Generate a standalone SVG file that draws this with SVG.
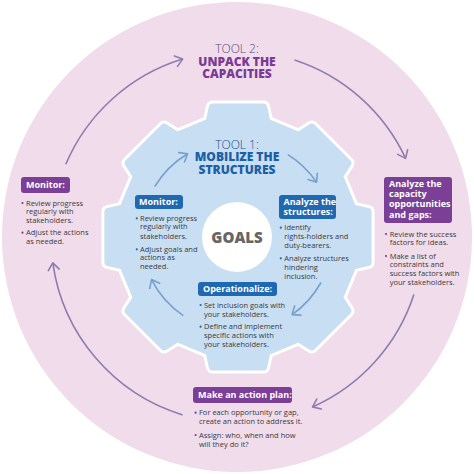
<svg xmlns="http://www.w3.org/2000/svg" width="474" height="474" viewBox="0 0 474 474">
<defs>
<style>
.body{font-family:"Open Sans","Noto Sans","Liberation Sans",sans-serif;font-size:7.5px;fill:#3a3a3a}
.hdr{font-family:"Open Sans","Noto Sans","Liberation Sans",sans-serif;font-size:9px;font-weight:700;fill:#ffffff}
.pbox{fill:#7b3f98}
.bbox{fill:#1f68b2}
.pdot{fill:#7b3f98}
.bdot{fill:#1f68b2}
.oarc{fill:none;stroke:#8f7cb0;stroke-width:1.6;marker-end:url(#pa)}
.iarc{fill:none;stroke:#76a0cf;stroke-width:1.6;marker-end:url(#ba)}
.tl{font-family:"Open Sans","Noto Sans","Liberation Sans",sans-serif;font-size:12px;font-weight:300;text-anchor:middle}
.tb{font-family:"Open Sans","Noto Sans","Liberation Sans",sans-serif;font-size:12px;font-weight:800;text-anchor:middle}
</style>
<marker id="pa" viewBox="-9 -7 11 14" markerWidth="11" markerHeight="14" refX="0" refY="0" orient="auto" markerUnits="userSpaceOnUse">
<path d="M-7,-5.5 L0,0 L-7,5.5" fill="none" stroke="#8f7cb0" stroke-width="1.6" stroke-linecap="round" stroke-linejoin="round"/>
</marker>
<marker id="ba" viewBox="-9 -7 11 14" markerWidth="11" markerHeight="14" refX="0" refY="0" orient="auto" markerUnits="userSpaceOnUse">
<path d="M-7,-5.5 L0,0 L-7,5.5" fill="none" stroke="#76a0cf" stroke-width="1.6" stroke-linecap="round" stroke-linejoin="round"/>
</marker>
</defs>
<rect width="474" height="474" fill="#ffffff"/>
<circle cx="237" cy="237" r="235" fill="#f0dcea"/>
<g id="gear">
<path id="gear-outline" d="M209.5,122.5 L212.8,107.4 L263.2,107.4 L266.5,122.5 L298.8,135.9 L311.8,127.6 L347.4,163.2 L339.1,176.2 L352.5,208.5 L367.6,211.8 L367.6,262.2 L352.5,265.5 L339.1,297.8 L347.4,310.8 L311.8,346.4 L298.8,338.1 L266.5,351.5 L263.2,366.6 L212.8,366.6 L209.5,351.5 L177.2,338.1 L164.2,346.4 L128.6,310.8 L136.9,297.8 L123.5,265.5 L108.4,262.2 L108.4,211.8 L123.5,208.5 L136.9,176.2 L128.6,163.2 L164.2,127.6 L177.2,135.9 Z" fill="#ffffff" stroke="#ffffff" stroke-width="14" stroke-linejoin="round"/>
<path d="M209.5,122.5 L212.8,107.4 L263.2,107.4 L266.5,122.5 L298.8,135.9 L311.8,127.6 L347.4,163.2 L339.1,176.2 L352.5,208.5 L367.6,211.8 L367.6,262.2 L352.5,265.5 L339.1,297.8 L347.4,310.8 L311.8,346.4 L298.8,338.1 L266.5,351.5 L263.2,366.6 L212.8,366.6 L209.5,351.5 L177.2,338.1 L164.2,346.4 L128.6,310.8 L136.9,297.8 L123.5,265.5 L108.4,262.2 L108.4,211.8 L123.5,208.5 L136.9,176.2 L128.6,163.2 L164.2,127.6 L177.2,135.9 Z" fill="#c8def2" stroke="#c8def2" stroke-width="8" stroke-linejoin="round"/>
</g>
<g id="connectors">
<path class="oarc" d="M65.8,164.3 A186,186 0 0 1 182.6,59.1"/>
<path class="oarc" d="M294.5,60.1 A186,186 0 0 1 405.6,158.4"/>
<path class="oarc" d="M413.9,294.5 A186,186 0 0 1 312.6,406.9"/>
<path class="oarc" d="M182.6,414.9 A186,186 0 0 1 52.8,262.9"/>
<path class="iarc" d="M154.7,186.6 A96,96 0 0 1 187.6,153.7"/>
<path class="iarc" d="M287.9,154.6 A96,96 0 0 1 316.6,182.3"/>
<path class="iarc" d="M321.0,282.5 A96,96 0 0 1 292.1,314.6"/>
<path class="iarc" d="M183.3,315.6 A96,96 0 0 1 151.5,279.6"/>
</g>
<g id="tool2-title">
<text class="tl" x="237" y="52.5" fill="#5b4a7c">TOOL 2:</text>
<text class="tb" x="237" y="65.5" fill="#7a3a95">UNPACK THE</text>
<text class="tb" x="237" y="77.8" fill="#7a3a95">CAPACITIES</text>
</g>
<g id="tool1-title">
<text class="tl" x="237" y="148.6" fill="#22508a">TOOL 1:</text>
<text class="tb" x="237" y="161" fill="#1d5fa6">MOBILIZE THE</text>
<text class="tb" x="237" y="174.3" fill="#1d5fa6">STRUCTURES</text>
</g>
<g id="goals">
<circle cx="237" cy="237" r="35" fill="#ffffff"/>
<text x="237" y="242.5" text-anchor="middle" font-family="'Open Sans','Noto Sans','Liberation Sans',sans-serif" font-size="15" font-weight="800" fill="#666666">GOALS</text>
</g>
<g id="outer-monitor">
<rect class="pbox" x="21" y="177" width="49" height="16" rx="3"/>
<text class="hdr" x="26" y="188.3">Monitor:</text>
<circle class="pdot" cx="22.5" cy="203" r="1.1"/>
<text class="body" x="26" y="205.6">Review progress</text>
<text class="body" x="26" y="214.1">regularly with</text>
<text class="body" x="26" y="222.6">stakeholders.</text>
<circle class="pdot" cx="22.5" cy="232.7" r="1.1"/>
<text class="body" x="26" y="235.3">Adjust the actions</text>
<text class="body" x="26" y="243.6">as needed.</text>
</g>
<g id="inner-monitor">
<rect class="bbox" x="135" y="195" width="48" height="14" rx="3"/>
<text class="hdr" x="139" y="205.3">Monitor:</text>
<circle class="bdot" cx="136.8" cy="218.3" r="1.1"/>
<text class="body" x="140" y="220.9">Review progress</text>
<text class="body" x="140" y="229.3">regularly with</text>
<text class="body" x="140" y="238.6">stakeholders.</text>
<circle class="bdot" cx="136.8" cy="249.3" r="1.1"/>
<text class="body" x="140" y="251.9">Adjust goals and</text>
<text class="body" x="140" y="260.3">actions as</text>
<text class="body" x="140" y="268.6">needed.</text>
</g>
<g id="analyze-structures">
<rect class="bbox" x="279" y="195" width="57" height="24" rx="3"/>
<text class="hdr" x="283.5" y="204.9">Analyze the</text>
<text class="hdr" x="283.5" y="214.9">structures:</text>
<circle class="bdot" cx="280.8" cy="227.7" r="1.1"/>
<text class="body" x="284.3" y="230.3">Identify</text>
<text class="body" x="284.3" y="239.3">rights-holders and</text>
<text class="body" x="284.3" y="247.6">duty-bearers.</text>
<circle class="bdot" cx="280.8" cy="258.3" r="1.1"/>
<text class="body" x="284.3" y="260.9">Analyze structures</text>
<text class="body" x="284.3" y="269.9">hindering</text>
<text class="body" x="284.3" y="278.6">inclusion.</text>
</g>
<g id="analyze-capacity">
<rect class="pbox" x="384" y="177" width="68" height="46" rx="3"/>
<text class="hdr" x="389" y="187.2">Analyze the</text>
<text class="hdr" x="389" y="197.2">capacity</text>
<text class="hdr" x="389" y="207.2">opportunities</text>
<text class="hdr" x="389" y="217.5">and gaps:</text>
<circle class="pdot" cx="386" cy="234" r="1.1"/>
<text class="body" x="389.7" y="236.6">Review the success</text>
<text class="body" x="389.7" y="245.3">factors for ideas.</text>
<circle class="pdot" cx="386" cy="256" r="1.1"/>
<text class="body" x="389.7" y="258.6">Make a list of</text>
<text class="body" x="389.7" y="267.3">constraints and</text>
<text class="body" x="389.7" y="275.9">success factors with</text>
<text class="body" x="389.7" y="284.9">your stakeholders.</text>
</g>
<g id="operationalize">
<rect class="bbox" x="198" y="282" width="79" height="14" rx="3"/>
<text class="hdr" x="203" y="292.2">Operationalize:</text>
<circle class="bdot" cx="200.6" cy="305" r="1.1"/>
<text class="body" x="204" y="307.6">Set inclusion goals with</text>
<text class="body" x="204" y="316.6">your stakeholders.</text>
<circle class="bdot" cx="200.6" cy="326.7" r="1.1"/>
<text class="body" x="204" y="329.3">Define and implement</text>
<text class="body" x="204" y="338.3">specific actions with</text>
<text class="body" x="204" y="346.9">your stakeholders.</text>
</g>
<g id="action-plan">
<rect class="pbox" x="193" y="387" width="99" height="16" rx="3"/>
<text class="hdr" x="198" y="398.2">Make an action plan:</text>
<circle class="pdot" cx="195.6" cy="412.7" r="1.1"/>
<text class="body" x="199" y="415.3">For each opportunity or gap,</text>
<text class="body" x="199" y="423.9">create an action to address it.</text>
<circle class="pdot" cx="195.6" cy="435" r="1.1"/>
<text class="body" x="199" y="437.6">Assign: who, when and how</text>
<text class="body" x="199" y="446.6">will they do it?</text>
</g>
</svg>
